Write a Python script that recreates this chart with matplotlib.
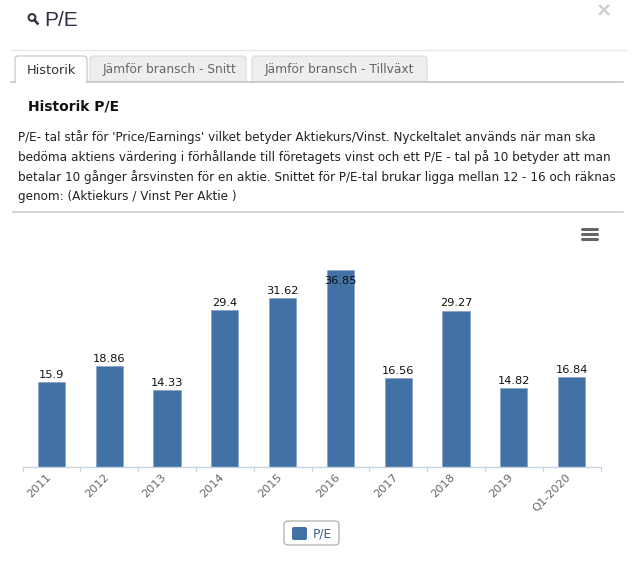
#!/usr/bin/env python3
"""P/E history bar chart inside a modal dialog."""

import matplotlib
matplotlib.use('Agg')
import matplotlib.pyplot as plt
from matplotlib.patches import FancyBboxPatch, Rectangle, Circle
from matplotlib.lines import Line2D

W, H = 640, 562

periods = ['2011', '2012', '2013', '2014', '2015', '2016', '2017', '2018',
           '2019', 'Q1-2020']
pe_values = [15.9, 18.86, 14.33, 29.4, 31.62, 36.85, 16.56, 29.27, 14.82, 16.84]

tab_labels = ['Historik', 'Jämför bransch - Snitt', 'Jämför bransch - Tillväxt']
body_lines = [
    "P/E- tal står för 'Price/Earnings' vilket betyder Aktiekurs/Vinst. Nyckeltalet används när man ska",
    "bedöma aktiens värdering i förhållande till företagets vinst och ett P/E - tal på 10 betyder att man",
    "betalar 10 gånger årsvinsten för en aktie. Snittet för P/E-tal brukar ligga mellan 12 - 16 och räknas",
    "genom: (Aktiekurs / Vinst Per Aktie )",
]

BAR = '#4271a6'
FONT = ['DejaVu Sans']

fig = plt.figure(figsize=(W / 100, H / 100), dpi=100, facecolor='white')

# page chrome, drawn in pixel coordinates
bg = fig.add_axes([0, 0, 1, 1])
bg.set_xlim(0, W)
bg.set_ylim(H, 0)
bg.axis('off')


def hline(x0, x1, y, color, lw=1.0, zorder=2):
    bg.add_line(Line2D([x0, x1], [y, y], color=color, lw=lw, zorder=zorder))


def tab(x0, x1, y0, y1, face, edge):
    bg.add_patch(FancyBboxPatch((x0 + 3, y0 + 3), x1 - x0 - 6, y1 - y0,
                                boxstyle='round,pad=3,rounding_size=3',
                                fc=face, ec=edge, lw=0.8, zorder=1))


# header
bg.add_patch(Circle((32, 17.5), 3.4, fc='none', ec='#333344', lw=1.5))
bg.add_line(Line2D([34.5, 37.5], [20, 23.5], color='#333344', lw=1.9))
bg.text(44, 20.5, 'P/E', fontsize=15, color='#2f2f45', va='center',
        family='Liberation Sans')
bg.text(604, 11, '×', fontsize=14, color='#cccccc', va='center', ha='center',
        fontweight='bold')
hline(11, 627, 49.5, '#e8e8e8')

# tabs, bottoms hidden so only the top corners stay rounded
tab(90, 246, 56, 84, '#eeeeee', '#d8d8d8')
tab(252, 427, 56, 84, '#eeeeee', '#d8d8d8')
tab(15, 87, 56, 84, 'white', '#c4c4c4')
bg.add_patch(Rectangle((0, 82), W, 12, fc='white', ec='none', zorder=1.5))
hline(11, 15, 81.5, '#c4c4c4', 1.2)
hline(87, 623, 81.5, '#c4c4c4', 1.2)
bg.text(51, 70, tab_labels[0], fontsize=9.3, color='#333333', ha='center',
        va='center', family=FONT)
bg.text(169.5, 70, tab_labels[1], fontsize=8.85, color='#666666', ha='center',
        va='center', family=FONT)
bg.text(339.5, 70, tab_labels[2], fontsize=8.85, color='#666666', ha='center',
        va='center', family=FONT)

# description
bg.text(28, 107, 'Historik P/E', fontsize=10, fontweight='bold', color='#111111',
        va='center', family=FONT)
for i, line in enumerate(body_lines):
    bg.text(18, 137 + i * 19.9, line, fontsize=8.65, color='#222222',
            va='center', family=FONT)
hline(13, 623, 211.5, '#cccccc', 1.2)

# menu icon
for y in (228.5, 233.7, 238.8):
    bg.add_line(Line2D([581.5, 596.5], [y, y], color='#666666', lw=2.2,
                       solid_capstyle='round'))

# bar chart, axes box set so the top equals the tallest bar
left, right, top, bottom = 22.5, 600.5, 270, 467
ax = fig.add_axes([left / W, 1 - bottom / H, (right - left) / W, (bottom - top) / H])
ax.patch.set_alpha(0)
ax.bar(range(len(periods)), pe_values, width=0.47, color=BAR, edgecolor='#7f9dc2',
       linewidth=0.4)
ax.set_xlim(-0.5, len(periods) - 0.5)
ax.set_ylim(0, max(pe_values))
ax.set_yticks([])
for side in ('top', 'left', 'right'):
    ax.spines[side].set_visible(False)
ax.spines['bottom'].set_color('#c6d3e3')
ax.spines['bottom'].set_linewidth(1.0)

# ticks sit on category edges, labels on the category centres
ax.set_xticks([i - 0.5 for i in range(len(periods) + 1)])
ax.tick_params(axis='x', length=3.5, width=0.8, color='#c6d3e3', labelbottom=False)
for i, label in enumerate(periods):
    ax.annotate(label, (i, 0), xytext=(-4, -3.5), textcoords='offset points',
                rotation=45, ha='right', va='top', rotation_mode='anchor',
                fontsize=8.2, color='#666666', family=FONT)
    y_off = -4.5 if pe_values[i] == max(pe_values) else 1.5
    ax.annotate(f'{pe_values[i]:g}', (i, pe_values[i]), xytext=(0, y_off),
                textcoords='offset points', ha='center',
                va='top' if y_off < 0 else 'bottom', fontsize=8.2,
                color='#111111', family=FONT, annotation_clip=False)

# legend box
bg.add_patch(FancyBboxPatch((287, 524), 49, 18, boxstyle='round,pad=3,rounding_size=4',
                            fc='white', ec='#b5b5b5', lw=1))
bg.add_patch(FancyBboxPatch((293, 528), 13, 11, boxstyle='round,pad=1,rounding_size=2',
                            fc=BAR, ec='none'))
bg.text(313, 534, 'P/E', fontsize=8.8, color='#3d5c85', va='center', family=FONT)

fig.savefig('out.png', dpi=100, facecolor='white')
